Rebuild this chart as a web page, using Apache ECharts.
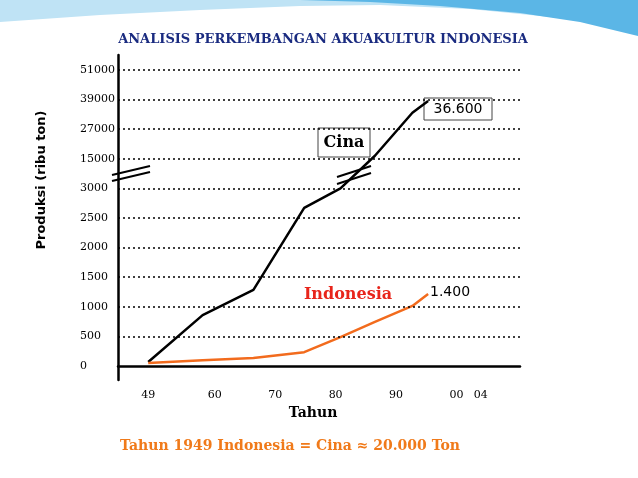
<!DOCTYPE html>
<html><head><meta charset="utf-8">
<script src="https://cdn.jsdelivr.net/npm/echarts@6/dist/echarts.min.js"></script>
<style>html,body{margin:0;padding:0;background:#fff}#c{width:638px;height:478px}</style>
</head><body><div id="c"></div>
<script>
const yTickLabels = ['0','500','1000','1500','2000','2500','3000','15000','27000','39000','51000'];
const yTickValues = [0,500,1000,1500,2000,2500,3000,15000,27000,39000,51000];
const xTickYears = [1949,1960,1970,1980,1990,2000,2004];
const years = [1949,1958,1966.4,1974.8,1980.8,1986.5,1992.7,1995.3];
const cina = [70,860,1285,2670,3000,16200,33600,38400];
const indonesia = [50,100,135,235,490,745,1015,1215];

function toIdx(v){
  for(let i=0;i<yTickValues.length-1;i++){
    if(v<=yTickValues[i+1]) return i+(v-yTickValues[i])/(yTickValues[i+1]-yTickValues[i]);
  }
  return yTickValues.length-1;
}
const serif = '"DejaVu Serif","Liberation Serif",serif';
const chart = echarts.init(document.getElementById('c'));
chart.setOption({
  animation:false,
  grid:{left:118,right:118,top:55,bottom:98},
  xAxis:{type:'value',min:1944,max:2010.5,splitLine:{show:false},
    axisLine:{lineStyle:{color:'#000',width:2.5}},axisTick:{show:false},
    axisLabel:{customValues:xTickYears,formatter:v=>String(v).slice(2),fontFamily:serif,fontSize:11,color:'#000',margin:10}},
  yAxis:{type:'value',min:-0.47,max:10.5,splitLine:{show:false},
    axisLine:{show:true,lineStyle:{color:'#000',width:2.5}},axisTick:{show:false},
    axisLabel:{customValues:[0,1,2,3,4,5,6,7,8,9,10],formatter:v=>yTickLabels[Math.round(v)],
      fontFamily:serif,fontSize:11,color:'#000',align:'left',margin:38}},
  series:[
    {type:'line',data:years.map((y,i)=>[y,toIdx(cina[i])]),symbol:'none',lineStyle:{color:'#000',width:2.5},
     markLine:{silent:true,symbol:'none',label:{show:false},lineStyle:{color:'#000',type:[2,3],width:1.5},
       data:[1,2,3,4,5,6,7,8,9,10].map(v=>({yAxis:v}))}},
    {type:'line',data:years.map((y,i)=>[y,toIdx(indonesia[i])]),symbol:'none',lineStyle:{color:'#f26b1d',width:2.5}}
  ],
  graphic:[
    {type:'polygon',shape:{points:[[0,0],[638,0],[638,30],[560,18],[470,9],[380,5],[300,6],[200,10],[100,15],[0,22]]},style:{fill:'#bfe3f5'}},
    {type:'polygon',shape:{points:[[300,0],[638,0],[638,36],[580,22],[520,13],[440,6],[370,2]]},style:{fill:'#5bb6e6'}},
    {type:'text',x:323,y:40,style:{text:'ANALISIS PERKEMBANGAN AKUAKULTUR INDONESIA',font:'bold 13px '+serif,fill:'#1a2b80',align:'center',verticalAlign:'middle',shadowColor:'rgba(0,0,0,0.45)',shadowOffsetX:1.5,shadowOffsetY:1.5,shadowBlur:1}},
    {type:'text',x:42,y:180,rotation:Math.PI/2,style:{text:'Produksi (ribu ton)',font:'bold 13px "DejaVu Sans",sans-serif',fill:'#000',align:'center',verticalAlign:'middle'}},
    {type:'text',x:313,y:413,style:{text:'Tahun',font:'bold 14px '+serif,fill:'#000',align:'center',verticalAlign:'middle'}},
    {type:'rect',shape:{x:318,y:128,width:52,height:29},style:{fill:'#fff',stroke:'#444',lineWidth:1}},
    {type:'text',x:344,y:143,style:{text:'Cina',font:'bold 16px '+serif,fill:'#000',align:'center',verticalAlign:'middle'}},
    {type:'rect',shape:{x:424,y:98,width:68,height:22},style:{fill:'#fff',stroke:'#444',lineWidth:1}},
    {type:'text',x:458,y:109,style:{text:'36.600',font:'14px "DejaVu Sans",sans-serif',fill:'#000',align:'center',verticalAlign:'middle'}},
    {type:'text',x:348,y:295,style:{text:'Indonesia',font:'bold 16px '+serif,fill:'#e8251b',align:'center',verticalAlign:'middle'}},
    {type:'text',x:430,y:292,style:{text:'1.400',font:'14px "DejaVu Sans",sans-serif',fill:'#000',align:'left',verticalAlign:'middle'}},
    {type:'text',x:290,y:446,style:{text:'Tahun 1949 Indonesia = Cina ≈ 20.000 Ton',font:'bold 14px '+serif,fill:'#f07a1a',align:'center',verticalAlign:'middle'}},
    {type:'rect',shape:{x:112,y:166,width:38,height:9},style:{fill:'#fff'}},
    {type:'line',shape:{x1:112,y1:175,x2:150,y2:166},style:{stroke:'#000',lineWidth:2}},
    {type:'line',shape:{x1:112,y1:181,x2:150,y2:172},style:{stroke:'#000',lineWidth:2}},
    {type:'rect',shape:{x:337,y:167,width:34,height:10},style:{fill:'#fff'}},
    {type:'line',shape:{x1:337,y1:177,x2:371,y2:166},style:{stroke:'#000',lineWidth:2}},
    {type:'line',shape:{x1:337,y1:184,x2:371,y2:173},style:{stroke:'#000',lineWidth:2}}
  ]
});
</script></body></html>
